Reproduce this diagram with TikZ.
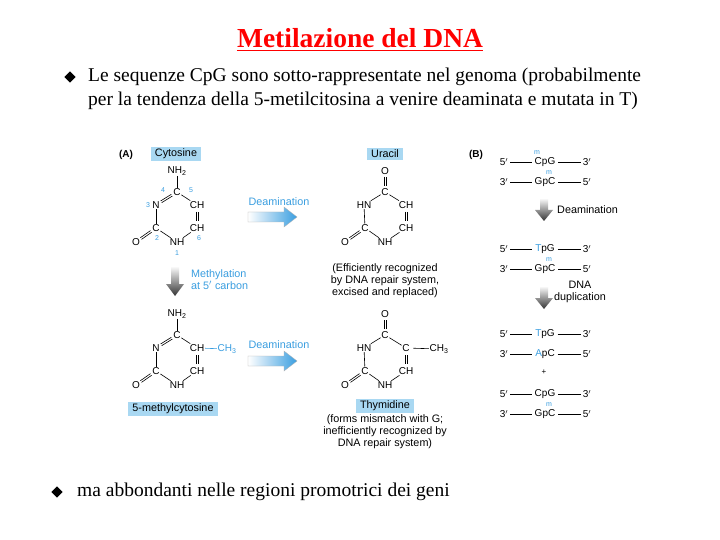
\documentclass[tikz,border=0pt]{standalone}
\usepackage{fontspec}
\setmainfont{Liberation Serif}
\newfontfamily\dsans{Liberation Sans}
\usetikzlibrary{shapes.geometric,calc}
\definecolor{lblue}{HTML}{A9D8F2}
\definecolor{tblue}{HTML}{3A9EE0}
\newcommand{\mysub}[1]{\textsubscript{#1}}
\newcommand{\dbond}[4]{%
  \coordinate (#1#2s) at ($(#1.center)!#3!(#2.center)$);
  \coordinate (#1#2e) at ($(#2.center)!#4!(#1.center)$);
  \draw[bond] ($(#1#2s)!1pt!90:(#1#2e)$) -- ($(#1#2e)!1pt!-90:(#1#2s)$);
  \draw[bond] ($(#1#2s)!1pt!-90:(#1#2e)$) -- ($(#1#2e)!1pt!90:(#1#2s)$);}
\begin{document}
\begin{tikzpicture}[x=1pt,y=-1pt,
  atom/.style={font=\dsans\fontsize{10}{11}\selectfont,inner sep=0.6pt},
  num/.style={font=\dsans\fontsize{7}{7}\selectfont,text=tblue,inner sep=0pt},
  bond/.style={line width=0.6pt},
  lab/.style={font=\dsans\fontsize{10.8}{12.2}\selectfont,align=center,inner sep=1pt},
  box/.style={lab,fill=lblue,inner xsep=4pt,inner ysep=2pt},
  blab/.style={lab,text=tblue},
  bul/.style={font=\fontsize{19.5}{24}\selectfont,anchor=west,inner sep=0pt,align=left}]
\useasboundingbox (0,0) rectangle (720,540);
\fill[white] (0,0) rectangle (720,540);
% title and bullets
\node[font=\bfseries\fontsize{27.5}{30}\selectfont,text=red,inner sep=0pt] (title) at (360,38) {Metilazione del DNA};
\draw[red,line width=1.2pt] ([yshift=-3pt]title.base west)--([yshift=-3pt]title.base east);
\node[fill=black,diamond,inner sep=2.9pt] at (70,77) (d1) {};
\node[bul] (t1) at (88,89) {Le sequenze CpG sono sotto-rappresentate nel genoma (probabilmente\\per la tendenza della 5-metilcitosina a venire deaminata e mutata in T)};
\node[fill=black,diamond,inner sep=2.9pt] at (57,492) (d2) {};
\node[bul] (t2) at (77,492) {ma abbondanti nelle regioni promotrici dei geni};
% Panel A
\node[lab,font=\dsans\bfseries\fontsize{10}{11}\selectfont] (A) at (126,155) {(A)};
\node[box] (cytb) at (176,154) {Cytosine};
\node[box] (urab) at (385,154) {Uracil};
% cytosine
\node[atom] (cN4) at (177,171) {NH\mysub{2}};
\node[atom] (cC4) at (177,192) {C};
\node[atom] (cN3) at (156,205) {N};
\node[atom] (cC5) at (197,205) {CH};
\node[atom] (cC2) at (156,228) {C};
\node[atom] (cC6) at (197,228) {CH};
\node[atom] (cN1) at (177,242) {NH};
\node[atom] (cO) at (136,242) {O};
\draw[bond] (cN4)--(cC4); \dbond{cC4}{cN3}{6pt}{6pt} \draw[bond] (cC4)--(cC5);
\dbond{cC5}{cC6}{7pt}{7pt} \draw[bond] (cN3)--(cC2); \draw[bond] (cC2)--(cN1);
\draw[bond] (cN1)--(cC6); \dbond{cC2}{cO}{6pt}{6pt}
\node[num] (n4) at (163,190) {4}; \node[num] (n5) at (191,190) {5};
\node[num] (n3) at (148,205) {3}; \node[num] (n2) at (157,238) {2};
\node[num] (n6) at (199,238) {6}; \node[num] (n1) at (177,253) {1};
% uracil
\node[atom] (uO4) at (385,171) {O};
\node[atom] (uC4) at (385,192) {C};
\node[atom] (uN3) at (364,205) {HN};
\node[atom] (uC5) at (406,205) {CH};
\node[atom] (uC2) at (365,228) {C};
\node[atom] (uC6) at (406,228) {CH};
\node[atom] (uN1) at (385,242) {NH};
\node[atom] (uO) at (345,242) {O};
\dbond{uO4}{uC4}{6pt}{6pt} \draw[bond] (uC4)--(uN3); \draw[bond] (uC4)--(uC5);
\dbond{uC5}{uC6}{7pt}{7pt} \draw[bond] (uN3)--(uC2); \draw[bond] (uC2)--(uN1);
\draw[bond] (uN1)--(uC6); \dbond{uC2}{uO}{6pt}{6pt}
\node[lab] (ueff) at (385,281) {(Efficiently recognized\\by DNA repair system,\\excised and replaced)};
% deamination arrows
\node[blab] (de1) at (279,202) {Deamination};
\shade[left color=white,right color=tblue,draw=gray!60,line width=0.3pt] (248,212)--(284,212)--(284,207)--(297,217)--(284,227)--(284,222)--(248,222)--cycle;
\node[blab] (de2) at (279,345) {Deamination};
\shade[left color=white,right color=tblue,draw=gray!60,line width=0.3pt] (248,356)--(284,356)--(284,351)--(297,361)--(284,371)--(284,366)--(248,366)--cycle;
% methylation arrow
\shade[top color=white,bottom color=black!80] (171,266)--(179,266)--(179,284)--(184,284)--(175,296)--(166,284)--(171,284)--cycle;
\node[blab,align=left,anchor=west] (meth) at (190,280) {Methylation\\at 5$'$ carbon};
% 5-methylcytosine
\node[atom] (mN4) at (177,314) {NH\mysub{2}};
\node[atom] (mC4) at (177,335) {C};
\node[atom] (mN3) at (156,348) {N};
\node[atom] (mC5) at (197,348) {CH};
\node[atom,text=tblue] (mCH3) at (227,349) {CH\mysub{3}};
\node[atom] (mC2) at (156,371) {C};
\node[atom] (mC6) at (197,371) {CH};
\node[atom] (mN1) at (177,385) {NH};
\node[atom] (mO) at (136,385) {O};
\draw[bond] (mN4)--(mC4); \dbond{mC4}{mN3}{6pt}{6pt} \draw[bond] (mC4)--(mC5);
\dbond{mC5}{mC6}{7pt}{7pt} \draw[bond] (mN3)--(mC2); \draw[bond] (mC2)--(mN1);
\draw[bond] (mN1)--(mC6); \dbond{mC2}{mO}{6pt}{6pt} \draw[bond,tblue] (mC5)--(mCH3);
\node[box] (mcb) at (173,409) {5-methylcytosine};
% thymidine
\node[atom] (tO4) at (385,314) {O};
\node[atom] (tC4) at (385,335) {C};
\node[atom] (tN3) at (364,348) {HN};
\node[atom] (tC5) at (406,348) {C};
\node[atom] (tCH3) at (439,349) {CH\mysub{3}};
\node[atom] (tC2) at (365,371) {C};
\node[atom] (tC6) at (406,371) {CH};
\node[atom] (tN1) at (385,385) {NH};
\node[atom] (tO) at (345,385) {O};
\dbond{tO4}{tC4}{6pt}{6pt} \draw[bond] (tC4)--(tN3); \draw[bond] (tC4)--(tC5);
\dbond{tC5}{tC6}{7pt}{7pt} \draw[bond] (tN3)--(tC2); \draw[bond] (tC2)--(tN1);
\draw[bond] (tN1)--(tC6); \dbond{tC2}{tO}{6pt}{6pt} \draw[bond,shorten <=3pt] (tC5)--(tCH3);
\node[box] (thb) at (385,406) {Thymidine};
\node[lab,anchor=north] (thtx) at (385,413) {(forms mismatch with G;\\inefficiently recognized by\\DNA repair system)};
% Panel B
\node[lab,font=\dsans\bfseries\fontsize{10}{11}\selectfont] (B) at (476,155) {(B)};
\newcommand{\strand}[5]{%
  \node[atom,anchor=east] (#1a) at (509,#2) {#3};
  \node[atom] (#1m) at (545,#2) {#4};
  \node[atom,anchor=west] (#1b) at (582,#2) {#5};
  \draw[line width=0.7pt] ([xshift=1pt]#1a.east)--([xshift=-2pt]#1m.west);
  \draw[line width=0.7pt] ([xshift=2pt]#1m.east)--([xshift=-1pt]#1b.west);}
\strand{r1}{162}{5$'$}{CpG}{3$'$}
\strand{r2}{182}{3$'$}{GpC}{5$'$}
\strand{r3}{249}{5$'$}{\textcolor{tblue}{T}pG}{3$'$}
\strand{r4}{269}{3$'$}{GpC}{5$'$}
\strand{r5}{334}{5$'$}{\textcolor{tblue}{T}pG}{3$'$}
\strand{r6}{354}{3$'$}{\textcolor{tblue}{A}pC}{5$'$}
\strand{r7}{394}{5$'$}{CpG}{3$'$}
\strand{r8}{414}{3$'$}{GpC}{5$'$}
\node[num] (m1) at (537,153) {m};
\node[num] (m2) at (549,173) {m};
\node[num] (m4) at (549,260) {m};
\node[num] (m8) at (549,405) {m};
\node[atom,font=\dsans\fontsize{8}{8}\selectfont] (plus) at (544,372) {+};
\shade[top color=white,bottom color=black!80] (540,198)--(548,198)--(548,210)--(553,210)--(544,221)--(535,210)--(540,210)--cycle;
\node[lab,anchor=west] (bde) at (556,210) {Deamination};
\shade[top color=white,bottom color=black!80] (540,286)--(548,286)--(548,298)--(553,298)--(544,309)--(535,298)--(540,298)--cycle;
\node[lab] (bdup) at (580,292) {DNA\\duplication};
\end{tikzpicture}
\end{document}
